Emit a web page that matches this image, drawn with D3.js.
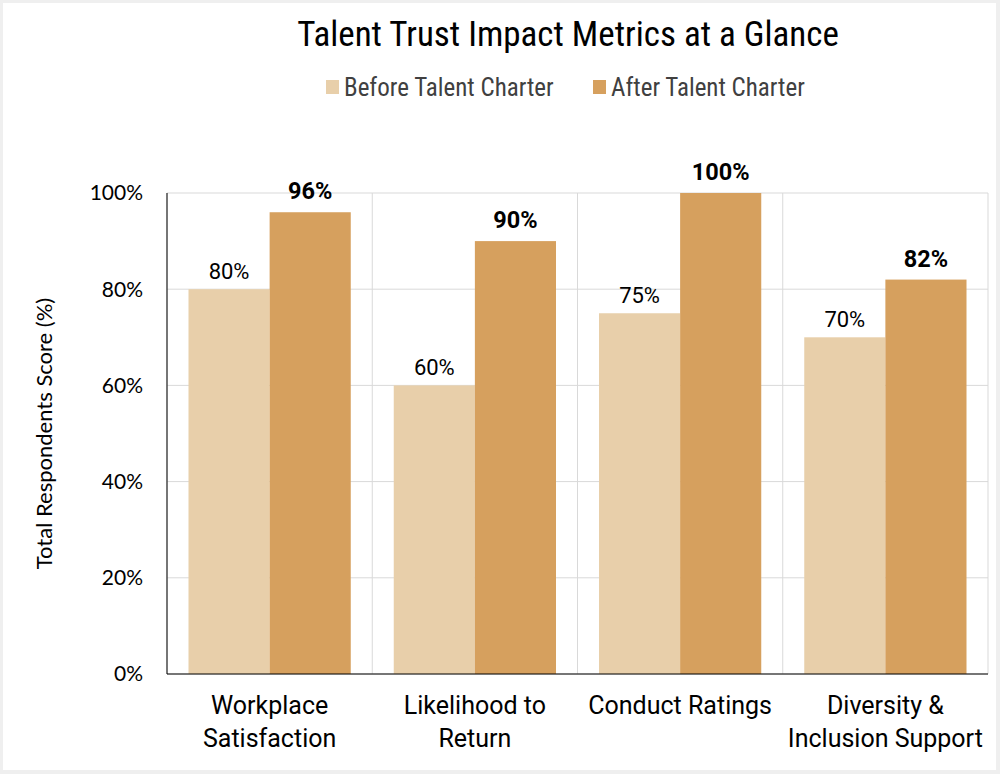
<!DOCTYPE html>
<html>
<head>
<meta charset="utf-8">
<script src="https://cdn.jsdelivr.net/npm/d3@7"></script>
<style>
  html, body { margin: 0; padding: 0; background: #efefef; }
  #chart { width: 1000px; height: 774px; }
</style>
</head>
<body>
<div id="chart"></div>
<script>
const categories = ["Workplace\nSatisfaction", "Likelihood to\nReturn", "Conduct Ratings", "Diversity &\nInclusion Support"];
const seriesNames = ["Before Talent Charter", "After Talent Charter"];
const beforeValues = [80, 60, 75, 70];
const afterValues = [96, 90, 100, 82];
const yTicks = [0, 20, 40, 60, 80, 100];
const colors = ["#e8cfaa", "#d6a05e"];

const width = 1000, height = 774;
const margin = {top: 193, right: 12, bottom: 100, left: 167};

const svg = d3.select("#chart").append("svg")
    .attr("width", width)
    .attr("height", height);

svg.append("rect")
    .attr("x", 3).attr("y", 3)
    .attr("width", 993).attr("height", 767)
    .attr("fill", "#fff");

const x = d3.scaleBand()
    .domain(categories)
    .range([margin.left, width - margin.right])
    .paddingInner(0)
    .paddingOuter(0);

const inner = d3.scaleBand()
    .domain([0, 1])
    .range([0, x.bandwidth()])
    .paddingOuter(0.265)
    .paddingInner(0);

const y = d3.scaleLinear()
    .domain([0, 100])
    .range([height - margin.bottom, margin.top]);

// horizontal grid
svg.append("g")
    .selectAll("line")
    .data(yTicks)
    .enter().append("line")
    .attr("x1", margin.left).attr("x2", width - margin.right)
    .attr("y1", d => y(d)).attr("y2", d => y(d))
    .attr("stroke", "#d9d9d9").attr("stroke-width", 1);

// vertical grid at category boundaries
const bounds = categories.map(c => x(c)).concat([x(categories[categories.length - 1]) + x.bandwidth()]);
svg.append("g")
    .selectAll("line")
    .data(bounds)
    .enter().append("line")
    .attr("x1", d => d).attr("x2", d => d)
    .attr("y1", y(100)).attr("y2", y(0))
    .attr("stroke", "#d9d9d9").attr("stroke-width", 1);

const rows = categories.map((c, i) => ({cat: c, vals: [beforeValues[i], afterValues[i]]}));

const groups = svg.append("g")
    .selectAll("g")
    .data(rows)
    .enter().append("g")
    .attr("transform", d => `translate(${x(d.cat)},0)`);

groups.selectAll("rect")
    .data(d => d.vals.map((v, k) => ({v, k})))
    .enter().append("rect")
    .attr("x", d => inner(d.k))
    .attr("y", d => y(d.v))
    .attr("width", inner.bandwidth())
    .attr("height", d => y(0) - y(d.v))
    .attr("fill", d => colors[d.k]);

groups.selectAll("text.val")
    .data(d => d.vals.map((v, k) => ({v, k})))
    .enter().append("text")
    .attr("class", "val")
    .attr("x", d => inner(d.k) + inner.bandwidth() / 2)
    .attr("y", d => y(d.v) - (d.k === 1 ? 13 : 10))
    .attr("text-anchor", "middle")
    .style("font-family", "Roboto, sans-serif")
    .style("font-size", d => d.k === 1 ? "23.5px" : "22px")
    .style("font-weight", d => d.k === 1 ? "bold" : "normal")
    .style("fill", "#000")
    .text(d => d.v + "%");

// axis lines
svg.append("line")
    .attr("x1", margin.left).attr("x2", margin.left)
    .attr("y1", y(100)).attr("y2", y(0))
    .attr("stroke", "#000").attr("stroke-width", 1);
svg.append("line")
    .attr("x1", margin.left).attr("x2", width - margin.right)
    .attr("y1", y(0)).attr("y2", y(0))
    .attr("stroke", "#000").attr("stroke-width", 1);

// y tick labels
svg.append("g")
    .selectAll("text")
    .data(yTicks)
    .enter().append("text")
    .attr("x", 143)
    .attr("y", d => y(d))
    .attr("dy", "0.35em")
    .attr("text-anchor", "end")
    .style("font-family", "Lato, sans-serif")
    .style("font-size", "21px")
    .style("fill", "#000")
    .text(d => d + "%");

// category labels
const catLabels = svg.append("g")
    .selectAll("text")
    .data(categories)
    .enter().append("text")
    .attr("x", d => x(d) + x.bandwidth() / 2)
    .attr("y", 714)
    .attr("text-anchor", "middle")
    .style("font-family", "Roboto, sans-serif")
    .style("font-size", "25px")
    .style("fill", "#000");
catLabels.each(function(d) {
    const lines = d.split("\n");
    const t = d3.select(this);
    lines.forEach((l, i) => {
        t.append("tspan")
            .attr("x", x(d) + x.bandwidth() / 2)
            .attr("dy", i === 0 ? 0 : 33)
            .text(l);
    });
});

// y axis title
svg.append("text")
    .attr("transform", `translate(52,${(y(0) + y(100)) / 2}) rotate(-90)`)
    .attr("text-anchor", "middle")
    .style("font-family", "Lato, sans-serif")
    .style("font-size", "22px")
    .style("fill", "#000")
    .text("Total Respondents Score (%)");

// title
svg.append("text")
    .attr("x", 568)
    .attr("y", 46)
    .attr("text-anchor", "middle")
    .style("font-family", "'Liberation Sans Narrow', 'Roboto Condensed', sans-serif")
    .style("font-size", "35px")
    .style("fill", "#000")
    .text("Talent Trust Impact Metrics at a Glance");

// legend
const legendItems = [{name: seriesNames[0], x: 326}, {name: seriesNames[1], x: 593}];
const legend = svg.append("g")
    .selectAll("g")
    .data(legendItems)
    .enter().append("g")
    .attr("transform", (d, i) => `translate(${d.x},87)`);
legend.append("rect")
    .attr("x", 0).attr("y", -7)
    .attr("width", 13).attr("height", 14)
    .attr("fill", (d, i) => colors[i]);
legend.append("text")
    .attr("x", 18)
    .attr("y", 0)
    .attr("dy", "0.35em")
    .style("font-family", "'Liberation Sans Narrow', 'Roboto Condensed', sans-serif")
    .style("font-size", "25px")
    .style("fill", "#404040")
    .text(d => d.name);
</script>
</body>
</html>
